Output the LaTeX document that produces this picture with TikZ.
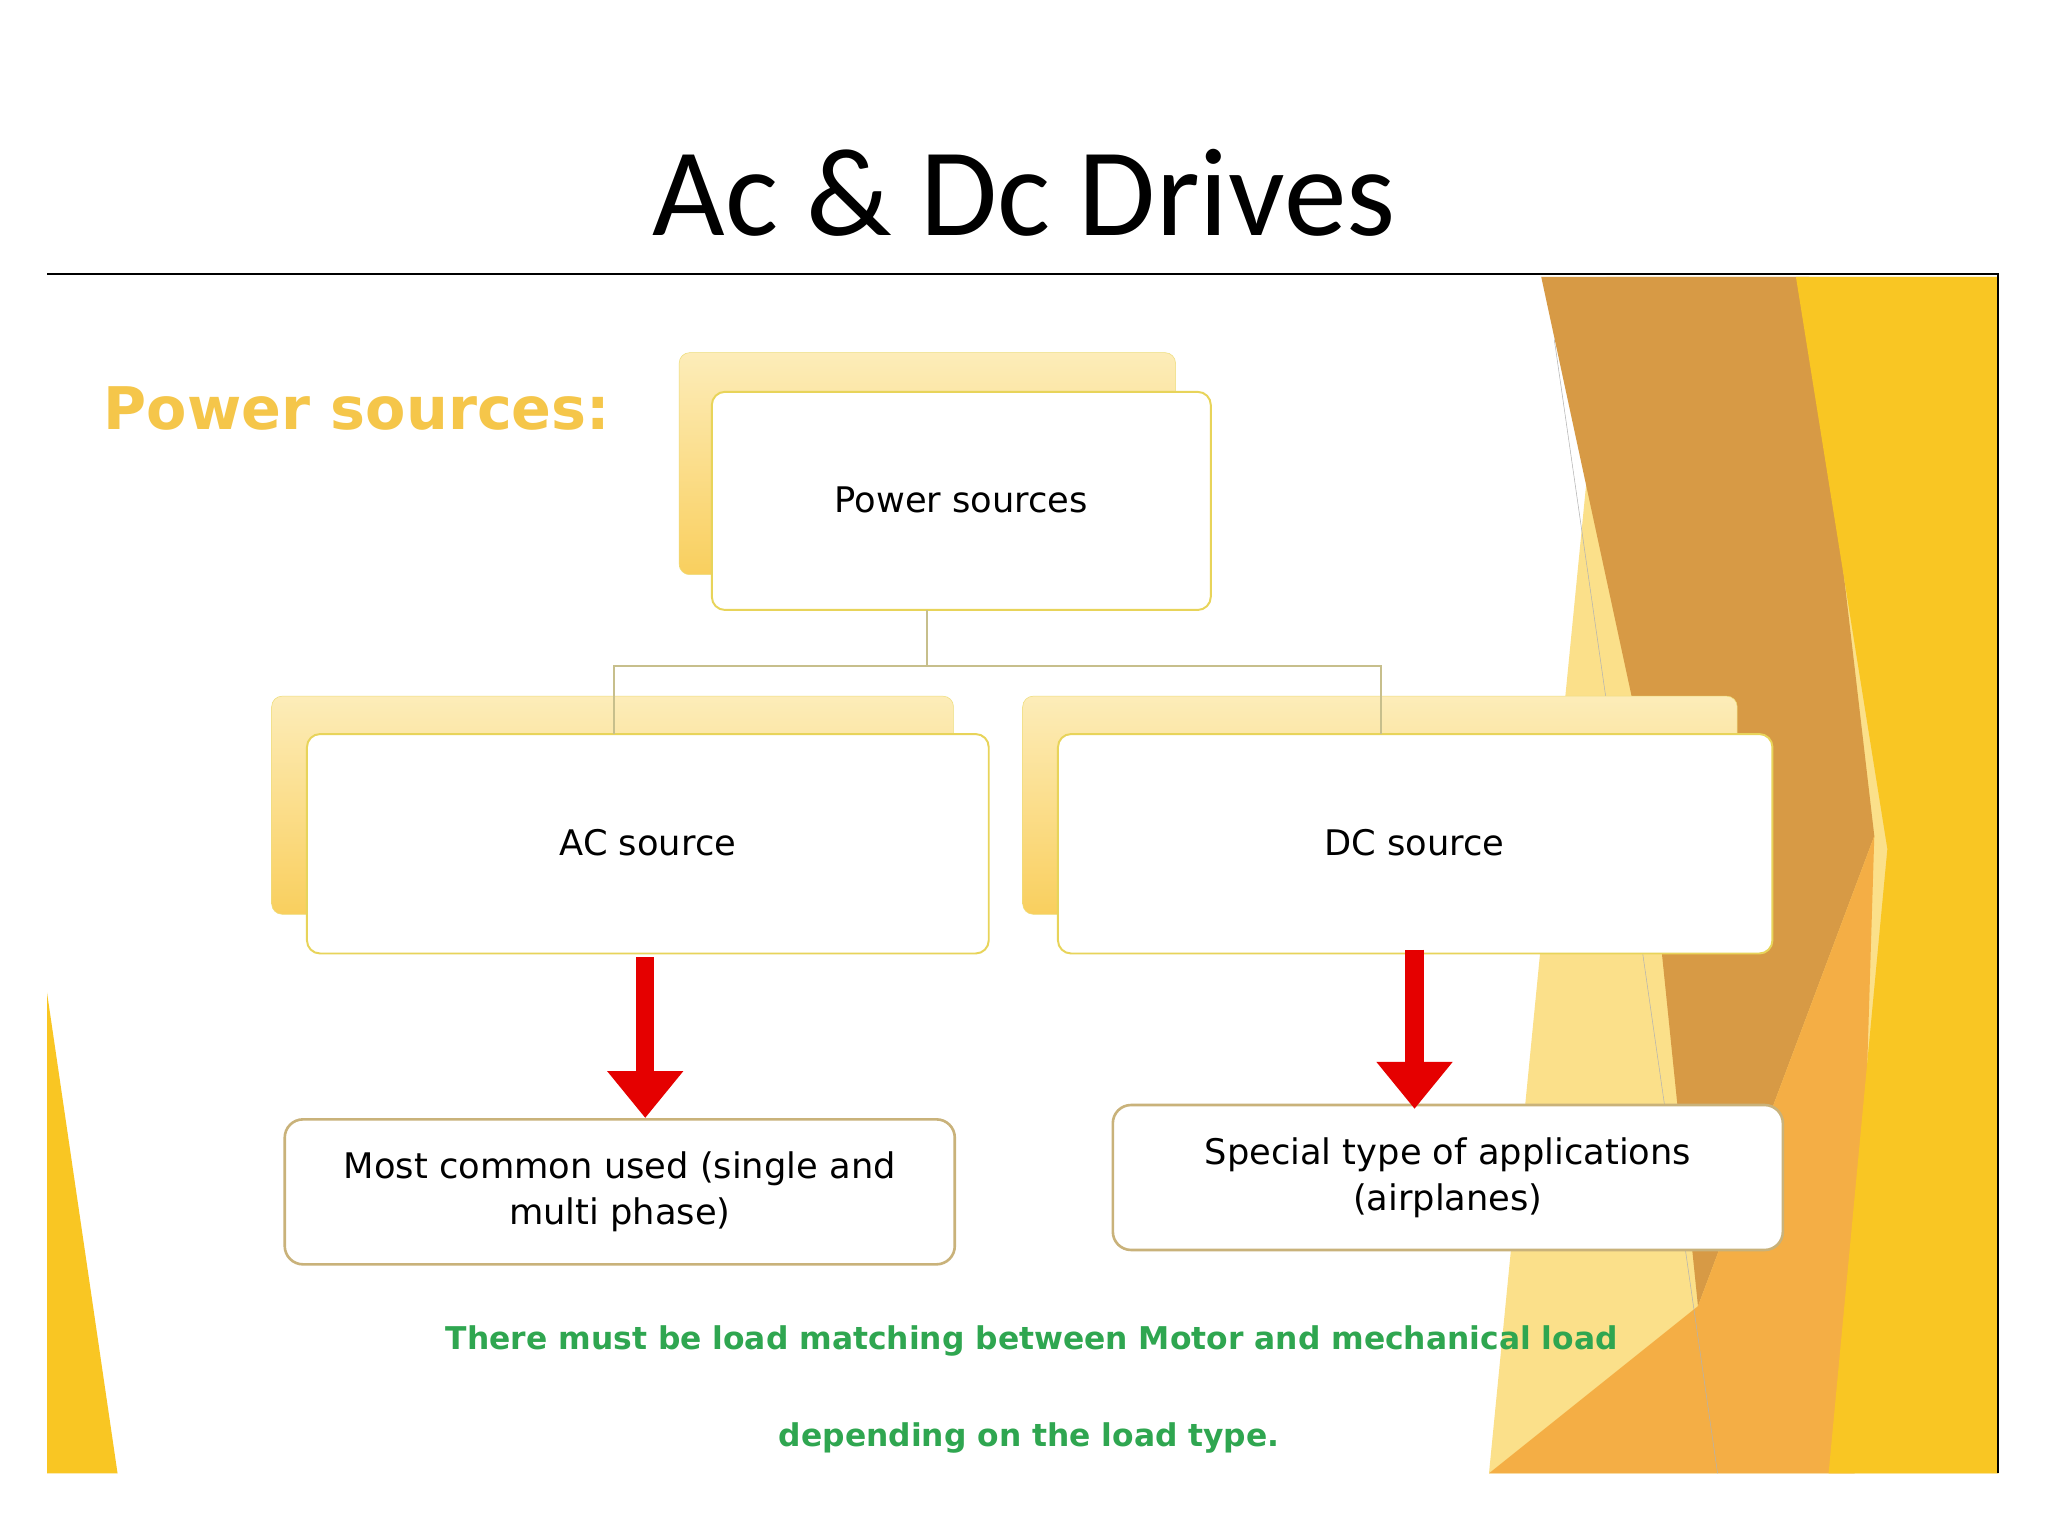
\documentclass[tikz,border=0pt]{standalone}
\usepackage{fontspec}
\setmainfont{Carlito}
\newfontfamily\boxfont{DejaVu Sans}
\usetikzlibrary{arrows.meta}
\definecolor{goldline}{HTML}{E8D45A}
\definecolor{goldfill}{HTML}{F9CF5E}
\definecolor{darkorange}{HTML}{D79A45}
\definecolor{midorange}{HTML}{F4AE45}
\definecolor{brightyellow}{HTML}{F9C623}
\definecolor{paleyellow}{HTML}{FBE08A}
\definecolor{titleyellow}{HTML}{F5C64A}
\definecolor{notegreen}{HTML}{2FA650}
\definecolor{leafline}{HTML}{C9B27A}
\tikzset{
  backbox/.style={rounded corners=8pt, top color=paleyellow!60, bottom color=goldfill, draw=goldline!80},
  frontbox/.style={rounded corners=10pt, fill=white, draw=goldline, line width=1.5pt},
  leafbox/.style={rounded corners=14pt, fill=white, draw=leafline, line width=2pt},
  boxtext/.style={font=\boxfont\fontsize{27}{35}\selectfont, align=center},
  notetext/.style={font=\boxfont\bfseries\fontsize{24}{30}\selectfont, text=notegreen},
  treeline/.style={draw=goldline!70!black!60, line width=1.5pt},
  downarrow/.style={draw=red!90!black, line width=14pt, -{Triangle[width=56pt,length=36pt]}}
}
\begin{document}
\begin{tikzpicture}[x=1pt, y=-1pt]
\useasboundingbox (0,0) rectangle (1568,1176);
\fill[white] (0,0) rectangle (1568,1176);
%Background
\fill[paleyellow] (1230,212) -- (1530,212) -- (1530,1128) -- (1140,1128) -- cycle;
\fill[darkorange] (1180,212) -- (1385,212) -- (1435,640) -- (1300,1000) -- (1255,560) -- cycle;
\fill[midorange] (1300,1000) -- (1435,640) -- (1420,1128) -- (1140,1128) -- cycle;
\fill[brightyellow] (1375,212) -- (1530,212) -- (1530,1128) -- (1400,1128) -- (1445,650) -- cycle;
\fill[brightyellow] (36,760) -- (90,1128) -- (36,1128) -- cycle;
\draw[gray!60] (1190,260) -- (1315,1128);
\draw[black, line width=1.5pt] (36,210) -- (1530,210) -- (1530,1128);
%Title
\node[font=\fontsize{96}{104}\selectfont] (title) at (784,148) {Ac \& Dc Drives};
\node[font=\boxfont\bfseries\fontsize{45}{50}\selectfont, text=titleyellow, anchor=west] (heading) at (76,313) {Power sources:};
%Boxes
\draw[backbox] (520,270) rectangle (900,440);
\draw[frontbox] (545,300) rectangle (927,467);
\node[boxtext] (root) at (736,383) {Power sources};
\draw[backbox] (208,533) rectangle (730,700);
\draw[frontbox] (235,562) rectangle (757,730);
\node[boxtext] (ac) at (496,645) {AC source};
\draw[backbox] (783,533) rectangle (1330,700);
\draw[frontbox] (810,562) rectangle (1357,730);
\node[boxtext] (dc) at (1083,645) {DC source};
\draw[treeline] (710,467) -- (710,510) -- (470,510) -- (470,562);
\draw[treeline] (710,510) -- (1057,510) -- (1057,562);
%Arrows
\coordinate (acbot) at (494,733);
\coordinate (dcbot) at (1083,727);
\node[leafbox, boxtext, minimum width=513pt, minimum height=111pt] (aclo) at (474.5,912.5) {Most common used (single and\\multi phase)};
\node[leafbox, boxtext, minimum width=513pt, minimum height=111pt] (dclo) at (1108.5,901.5) {Special type of applications\\(airplanes)};
\draw[downarrow] (acbot) -- (aclo.north -| acbot);
\draw[downarrow] (dcbot) -- ([yshift=-4pt]dclo.north -| dcbot);
%Note
\node[notetext] (note1) at (790,1027) {There must be load matching between Motor and mechanical load};
\node[notetext] (note2) at (788,1101) {depending on the load type.};
\end{tikzpicture}
\end{document}
